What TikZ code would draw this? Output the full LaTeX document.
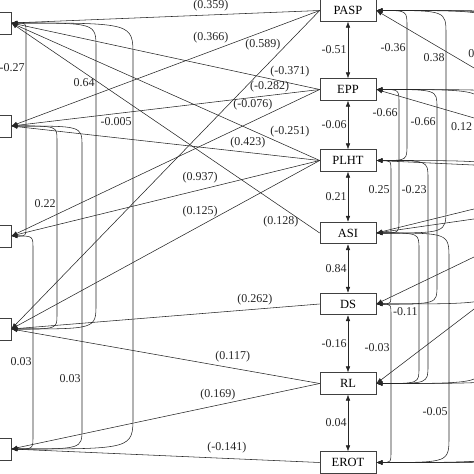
\documentclass[tikz,border=0pt]{standalone}
\usepackage{fontspec}
\setmainfont{Liberation Serif}
\usetikzlibrary{arrows.meta}
\tikzset{
  box/.style={draw=black!75, line width=0.6pt, fill=white, minimum width=56pt, minimum height=21.5pt, inner sep=0pt, font=\fontsize{12.5}{14}\selectfont},
  lbox/.style={draw=black!75, line width=0.6pt, fill=white, minimum width=30pt, minimum height=22pt, inner sep=0pt},
  reg/.style={draw=black!85, line width=0.55pt, -{Latex[length=6pt,width=4.5pt]}},
  cov/.style={draw=black!85, line width=0.55pt, {Latex[length=6pt,width=4.5pt]}-{Latex[length=6pt,width=4.5pt]}},
  lab/.style={font=\fontsize{12}{14}\selectfont, inner sep=1pt, text=black!85},
}
\begin{document}
\begin{tikzpicture}[x=1pt,y=-1pt]
\useasboundingbox (0,0) rectangle (474,474);
\clip (0,0) rectangle (474,474);
% centre boxes
\node[box] (pasp) at (348,10.5) {PASP};
\node[box] (epp)  at (348,89.5) {EPP};
\node[box] (plht) at (348,160.5) {PLHT};
\node[box] (asi)  at (348,233) {ASI};
\node[box] (ds)   at (348,304) {DS};
\node[box] (rl)   at (348,383.5) {RL};
\node[box] (erot) at (348,462.5) {EROT};
% left boxes (cut off)
\node[lbox] (b1) at (-4,23) {};
\node[lbox] (b2) at (-4,126) {};
\node[lbox] (b3) at (-4,236) {};
\node[lbox] (b4) at (-4,329) {};
\node[lbox] (b5) at (-4,449) {};
% regressions to the left boxes
\draw[reg] (pasp.west) -- node[lab,pos=0.353,yshift=8.9pt]{(0.359)} (b1.east);
\draw[reg] (pasp.west) -- node[lab,pos=0.353,yshift=13.3pt]{(0.366)} (b2.east);
\draw[reg] (pasp.west) -- node[lab,pos=0.184,yshift=24pt]{(0.589)} (b4.east);
\draw[reg] (epp.west) -- node[lab,pos=0.097,yshift=11pt]{(-0.371)} (b1.east);
\draw[reg] (epp.west) -- node[lab,pos=0.162,yshift=8.4pt]{(-0.282)} (b2.east);
\draw[reg] (epp.west) -- node[lab,pos=0.217,yshift=16.3pt]{(-0.076)} (b3.east);
\draw[reg] (plht.west) -- node[lab,pos=0.097,yshift=15.2pt]{(-0.251)} (b1.east);
\draw[reg] (plht.west) -- node[lab,pos=0.233,yshift=9.5pt]{(0.423)} (b2.east);
\draw[reg] (plht.west) -- node[lab,pos=0.388,yshift=11.8pt]{(0.937)} (b3.east);
\draw[reg] (plht.west) -- node[lab,pos=0.388,yshift=13.9pt]{(0.125)} (b4.east);
\draw[reg] (asi.west) -- node[lab,pos=0.126,yshift=-15.5pt]{(0.128)} (b1.east);
\draw[reg] (ds.west) -- node[lab,pos=0.21,yshift=9.3pt]{(0.262)} (b4.east);
\draw[reg] (rl.west) -- node[lab,pos=0.282,yshift=11.1pt]{(0.117)} (b4.east);
\draw[reg] (rl.west) -- node[lab,pos=0.33,yshift=10.1pt]{(0.169)} (b5.east);
\draw[reg] (erot.west) -- node[lab,pos=0.301,yshift=10.4pt]{(-0.141)} (b5.east);
% left covariances
\draw[cov] (b1.east) .. controls (26,23) .. (26,32) -- node[lab,pos=0.185,left]{-0.27} (26,227) .. controls (26,236) .. (b3.east);
\draw[cov] (b1.east) .. controls (96,23) .. (96,48) -- node[lab,pos=0.137,left]{0.64} (96,304) .. controls (96,329) .. (b4.east);
\draw[cov] (b1.east) .. controls (133,23) .. (133,56) -- node[lab,pos=0.183,left]{-0.005} (133,416) .. controls (133,449) .. (b5.east);
\draw[cov] (b2.east) .. controls (57,126) .. (57,140) -- node[lab,pos=0.366,left]{0.22} (57,315) .. controls (57,329) .. (b4.east);
\draw[cov] (b2.east) .. controls (82,126) .. (82,146) -- node[lab,pos=0.823,left]{0.03} (82,429) .. controls (82,449) .. (b5.east);
\draw[cov] (b3.east) .. controls (33,236) .. (33,249) -- node[lab,pos=0.604,left]{0.03} (33,436) .. controls (33,449) .. (b5.east);
% centre chain
\draw[cov] (pasp.south) -- node[lab,left]{-0.51} (epp.north);
\draw[cov] (epp.south) -- node[lab,left]{-0.06} (plht.north);
\draw[cov] (plht.south) -- node[lab,left]{0.21} (asi.north);
\draw[cov] (asi.south) -- node[lab,left]{0.84} (ds.north);
\draw[cov] (ds.south) -- node[lab,left]{-0.16} (rl.north);
\draw[cov] (rl.south) -- node[lab,left]{0.04} (erot.north);
% right covariances
\draw[cov] (pasp.east) .. controls (407,10.5) .. (407,26.5) -- node[lab,pos=0.18,left]{-0.36} (407,144.5) .. controls (407,160.5) .. (plht.east);
\draw[cov] (pasp.east) .. controls (446,10.5) .. (446,34.5) -- node[lab,pos=0.135,left]{0.38} (446,209) .. controls (446,233) .. (asi.east);
\draw[cov] (epp.east) .. controls (399,89.5) .. (399,103.5) -- node[lab,pos=0.082,left]{-0.66} (399,219) .. controls (399,233) .. (asi.east);
\draw[cov] (epp.east) .. controls (437,89.5) .. (437,107.5) -- node[lab,pos=0.081,left]{-0.66} (437,286) .. controls (437,304) .. (ds.east);
\draw[cov] (plht.east) .. controls (391,160.5) .. (391,172.5) -- node[lab,pos=0.146,left]{0.25} (391,292) .. controls (391,304) .. (ds.east);
\draw[cov] (plht.east) .. controls (428,160.5) .. (428,178.5) -- node[lab,pos=0.061,left]{-0.23} (428,365.5) .. controls (428,383.5) .. (rl.east);
\draw[cov] (asi.east) .. controls (419,233) .. (419,249) -- node[lab,pos=0.53,left]{-0.11} (419,367.5) .. controls (419,383.5) .. (rl.east);
\draw[cov] (asi.east) .. controls (449,233) .. (449,259) -- node[lab,pos=0.862,left]{-0.05} (449,436.5) .. controls (449,462.5) .. (erot.east);
\draw[cov] (ds.east) .. controls (391,304) .. (391,316) -- node[lab,pos=0.238,left]{-0.03} (391,450.5) .. controls (391,462.5) .. (erot.east);
\draw[cov] (pasp.east) .. controls (497,10.5) .. (497,40.5) -- node[lab,pos=0.054,anchor=west,xshift=-30pt]{0} (497,274) .. controls (497,304) .. (ds.east);
\draw[cov] (epp.east) .. controls (484,89.5) .. (484,117.5) -- node[lab,pos=0.04,anchor=east,xshift=-10.5pt]{0.12} (484,355.5) .. controls (484,383.5) .. (rl.east);
\draw[cov] (pasp.east) .. controls (520,10.5) .. (520,40.5) -- (520,353.5) .. controls (520,383.5) .. (rl.east);
\draw[cov] (plht.east) .. controls (510,160.5) .. (510,190.5) -- (510,432.5) .. controls (510,462.5) .. (erot.east);
\draw[cov] (epp.east) .. controls (535,89.5) .. (535,119.5) -- (535,432.5) .. controls (535,462.5) .. (erot.east);
\draw[cov] (pasp.east) .. controls (560,10.5) .. (560,40.5) -- (560,432.5) .. controls (560,462.5) .. (erot.east);
% incoming paths from the right (off picture)
\coordinate (inA) at (480,71.5);
\coordinate (inB) at (480,119.7);
\coordinate (inC) at (480,165.3);
\coordinate (inD) at (480,207.5);
\coordinate (inE) at (480,218.1);
\coordinate (inF) at (480,254.1);
\coordinate (inG) at (480,304.5);
\draw[reg] (inA) -- (pasp.east);
\draw[reg] (inB) -- (epp.east);
\draw[reg] (inC) -- (plht.east);
\draw[reg] (inD) -- (asi.east);
\draw[reg] (inE) -- (asi.east);
\draw[reg] (inF) -- (ds.east);
\draw[reg] (inG) -- (rl.east);
\end{tikzpicture}
\end{document}
